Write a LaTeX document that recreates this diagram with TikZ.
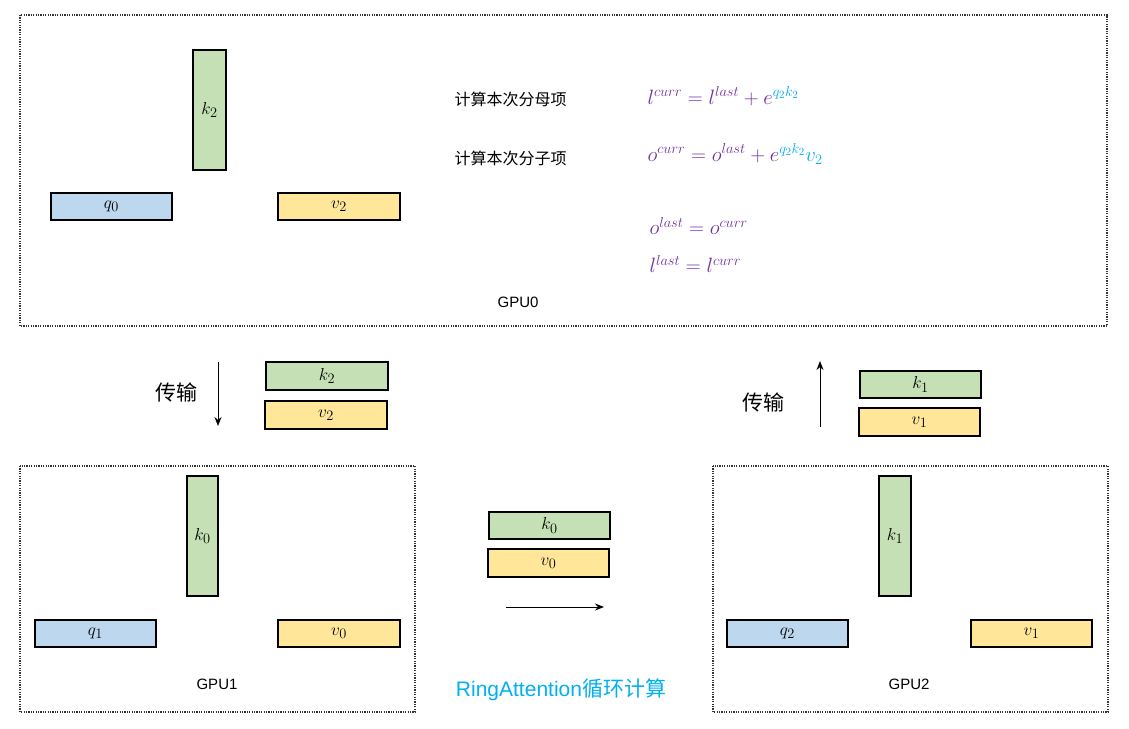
\documentclass[tikz,border=0pt]{standalone}
\usepackage{fontspec}
\usetikzlibrary{arrows.meta}
\setmainfont{Liberation Sans}
\newfontfamily\cjk{Noto Sans CJK SC}
\definecolor{qb}{RGB}{189,215,238}
\definecolor{kg}{RGB}{197,224,180}
\definecolor{vy}{RGB}{255,230,153}
\definecolor{pu}{RGB}{112,48,160}
\definecolor{cy}{RGB}{0,176,240}
\begin{document}
\begin{tikzpicture}[x=1pt,y=-1pt,
  gpu/.style={draw=black!80,line width=1.2pt,dash pattern=on 1.2pt off 1.2pt},
  blk/.style={draw=black,line width=1.3pt,inner sep=0,font=\fontsize{19}{19}\selectfont},
  tx/.style={font=\cjk\fontsize{16}{16}\selectfont,anchor=west},
  fm/.style={text=pu,font=\fontsize{22}{22}\selectfont,anchor=west},
  arr/.style={-{Stealth[length=9pt,width=7pt]},line width=1pt}]
\useasboundingbox (0,0) rectangle (1129,728);
% GPU0
\draw[gpu] (20,15) rectangle (1107,326);
\node[blk,fill=kg,minimum width=33pt,minimum height=120pt] (k2a) at (209.5,110) {$k_2$};
\node[blk,fill=qb,minimum width=121pt,minimum height=27pt] (q0) at (111.5,206.5) {$q_0$};
\node[blk,fill=vy,minimum width=122pt,minimum height=27pt] (v2a) at (339,206.5) {$v_2$};
\node[tx] (t1) at (451,99) {计算本次分母项};
\node[tx] (t2) at (451,158) {计算本次分子项};
\node[fm] (f1) at (644,96) {$l^{curr}=l^{last}+e^{\textcolor{cy}{q_2k_2}}$};
\node[fm] (f2) at (644,154) {$o^{curr}=o^{last}+e^{\textcolor{cy}{q_2k_2}}\textcolor{cy}{v_2}$};
\node[fm] (f3) at (646,226) {$o^{last}=o^{curr}$};
\node[fm] (f4) at (646,264) {$l^{last}=l^{curr}$};
\node[font=\fontsize{15}{15}\selectfont] (g0) at (518,302) {GPU0};
% left transfer
\node[font=\cjk\fontsize{21}{21}\selectfont] (c1) at (176,392) {传输};
\coordinate (a1s) at (218,362); \coordinate (a1e) at (218,426);
\draw[arr] (a1s) -- (a1e);
\node[blk,fill=kg,minimum width=122pt,minimum height=28pt] (k2b) at (327,376) {$k_2$};
\node[blk,fill=vy,minimum width=122pt,minimum height=28pt] (v2b) at (326,415) {$v_2$};
% right transfer
\node[font=\cjk\fontsize{21}{21}\selectfont] (c2) at (763,402) {传输};
\coordinate (a2s) at (820,427); \coordinate (a2e) at (820,361);
\draw[arr] (a2s) -- (a2e);
\node[blk,fill=kg,minimum width=121pt,minimum height=27pt] (k1b) at (920.5,384.5) {$k_1$};
\node[blk,fill=vy,minimum width=121pt,minimum height=28pt] (v1b) at (919.5,422) {$v_1$};
% GPU1
\draw[gpu] (20,466) rectangle (415,712);
\node[blk,fill=kg,minimum width=31pt,minimum height=120pt] (k0a) at (202.5,536) {$k_0$};
\node[blk,fill=qb,minimum width=121pt,minimum height=27pt] (q1) at (95.5,633.5) {$q_1$};
\node[blk,fill=vy,minimum width=122pt,minimum height=27pt] (v0a) at (339,633.5) {$v_0$};
\node[font=\fontsize{15}{15}\selectfont] (g1) at (217,684) {GPU1};
% middle
\node[blk,fill=kg,minimum width=121pt,minimum height=27pt] (k0b) at (549.5,525.5) {$k_0$};
\node[blk,fill=vy,minimum width=121pt,minimum height=28pt] (v0b) at (548.5,563) {$v_0$};
\coordinate (a3s) at (506,607); \coordinate (a3e) at (604,607);
\draw[arr] (a3s) -- (a3e);
\node[text=cy,font=\fontsize{21}{21}\selectfont] (ra) at (561,690) {RingAttention{\cjk 循环计算}};
% GPU2
\draw[gpu] (713,466) rectangle (1108,712);
\node[blk,fill=kg,minimum width=32pt,minimum height=120pt] (k1a) at (895,536) {$k_1$};
\node[blk,fill=qb,minimum width=121pt,minimum height=27pt] (q2) at (787.5,633.5) {$q_2$};
\node[blk,fill=vy,minimum width=121pt,minimum height=27pt] (v1a) at (1031.5,633.5) {$v_1$};
\node[font=\fontsize{15}{15}\selectfont] (g2) at (909,684) {GPU2};
\end{tikzpicture}
\end{document}
